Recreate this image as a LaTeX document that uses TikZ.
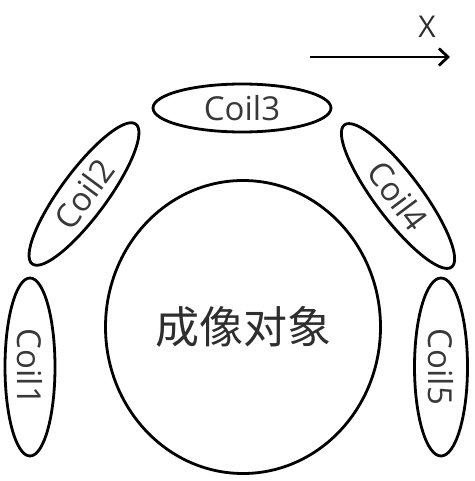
\documentclass[tikz,border=0pt]{standalone}
\usepackage{fontspec}
\setmainfont{Open Sans}
\newfontfamily\cjk{Noto Sans CJK SC}
\usetikzlibrary{shapes.geometric,arrows.meta}
\begin{document}
\begin{tikzpicture}[x=1pt,y=-1pt,
  coil/.style={draw, ellipse, line width=2.8pt, inner sep=0pt, font=\fontsize{33}{33}\selectfont, text=black!78},
  obj/.style={draw, ellipse, line width=2.8pt, inner sep=0pt, font=\cjk\fontsize{44}{44}\selectfont, text=black!82}]
\useasboundingbox (0,0) rectangle (474,481);
\node[obj, minimum width=275pt, minimum height=293pt] (obj) at (243,327) {成像对象};
\node[coil, minimum width=178pt, minimum height=48pt] (c3) at (242,108) {Coil3};
\node[coil, minimum width=174pt, minimum height=46pt, rotate=53.5] (c2) at (84,194) {Coil2};
\node[coil, minimum width=178pt, minimum height=46pt, rotate=-53] (c4) at (398,196) {Coil4};
\node[coil, minimum width=178pt, minimum height=50pt, rotate=-90] (c1) at (30,367) {Coil1};
\node[coil, minimum width=178pt, minimum height=53pt, rotate=-90] (c5) at (441,367) {Coil5};
\coordinate (xa) at (310,57);
\coordinate (xb) at (450,57);
\draw[line width=2.8pt, -{Straight Barb[length=9pt,width=17pt]}] (xa) -- (xb);
\node[font=\fontsize{30}{30}\selectfont, text=black!82] (xl) at (427,27) {X};
\end{tikzpicture}
\end{document}
